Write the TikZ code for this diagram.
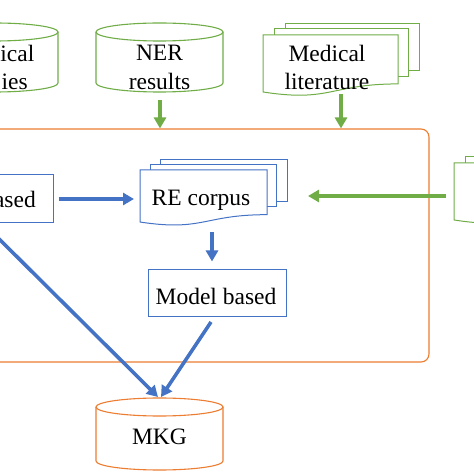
\documentclass[tikz,border=0pt]{standalone}
\usepackage{fontspec}
\setmainfont{Liberation Serif}
\usetikzlibrary{arrows.meta,calc}
\definecolor{ogreen}{HTML}{70AD47}
\definecolor{oblue}{HTML}{4472C4}
\definecolor{oorange}{HTML}{ED7D31}
\newcommand\mydoc[5]{% left, right, top, height, colour
  \draw[#5,line width=1pt,fill=white] (#1,#3) -- (#2,#3) -- (#2,{#3-0.802*#4})
    .. controls ({(#1+#2)/2},{#3-0.802*#4}) and ({(#1+#2)/2},{#3-1.107*#4}) .. (#1,{#3-0.934*#4}) -- cycle;}
\newcommand\mysheet[5]{\draw[#5,line width=1pt,fill=white] (#1,#3) rectangle (#2,#4);}
\newcommand\mycyl[5]{% left, right, top, bottom, colour
  \draw[#5,line width=1.1pt,fill=white] (#1,{#3-9}) -- (#1,{#4+9})
    arc[start angle=180,end angle=360,x radius={(#2-#1)/2},y radius=9] -- (#2,{#3-9});
  \draw[#5,line width=1.1pt] ({(#1+#2)/2},{#3-9}) ellipse[x radius={(#2-#1)/2},y radius=9];}
\begin{document}
\begin{tikzpicture}[x=1pt,y=1pt,
  txt/.style={font=\fontsize{23.5}{28.5}\selectfont,text=black,align=center,inner sep=0pt},
  garrow/.style={draw=ogreen,line width=3.6pt,-{Triangle[length=11pt,width=12pt]}},
  barrow/.style={draw=oblue,line width=3.6pt,-{Triangle[length=11pt,width=12pt]}},
  bluebox/.style={draw=oblue,line width=1pt,fill=white,minimum width=138pt,minimum height=47pt,inner sep=0pt}]
\useasboundingbox (0,0) rectangle (474,474);
\clip (0,0) rectangle (474,474);
% frame
\node[draw=oorange,line width=1.1pt,rounded corners=8pt,minimum width=449pt,minimum height=233pt,inner sep=0pt] (frame) at (204.5,228.5) {};
% cylinders
\mycyl{-69}{58}{451}{382}{ogreen}
\node[txt,anchor=east] (lefta) at (34.5,421) {ical};
\node[txt,anchor=east] (leftb) at (28,392) {ies};
\mycyl{96}{223}{451}{382}{ogreen}
\node[txt] (ner) at (159.5,406.5) {NER\\results};
\mycyl{96}{223}{76}{4}{oorange}
\node[txt] (mkg) at (159.5,37) {MKG};
\coordinate (mkgtop) at (160,77);
% medical literature
\mysheet{285}{419}{450}{403}{ogreen}
\mysheet{274}{408}{445}{397}{ogreen}
\mydoc{263}{398}{439}{61}{ogreen}
\node[txt] (medlit) at (327,406.5) {Medical\\literature};
% right partial stack
\mysheet{476}{611}{323}{273}{ogreen}
\mysheet{465}{600}{317}{268}{ogreen}
\mydoc{454}{589}{311}{61}{ogreen}
\coordinate (rightdoc) at (446,278);
% RE corpus
\mysheet{160}{287}{314}{272}{oblue}
\mysheet{150}{276}{309}{267}{oblue}
\mydoc{140}{267}{304}{55.7}{oblue}
\node[txt] (re) at (201,274) {RE corpus};
% ased box
\node[bluebox,minimum width=100pt,minimum height=48pt] (rule) at (3,275) {};
\node[txt,anchor=east] (ruletxt) at (36,275) {ased};
% model based
\node[bluebox] (model) at (217,180.5) {};
\node[txt] (modeltxt) at (216,178) {Model based};
% arrows
\coordinate (nerout) at (160,374);
\draw[garrow] (nerout) -- (nerout |- frame.north);
\coordinate (medout) at (341,380);
\draw[garrow] (medout) -- (medout |- frame.north);
\draw[garrow] (rightdoc) -- (308,278);
\draw[barrow] ([xshift=5pt]rule.east |- 0,275) -- (134,275);
\coordinate (reout) at (212,242);
\draw[barrow] (reout) -- ([yshift=8pt]reout |- model.north);
\coordinate (modelout) at (211,152);
\draw[barrow] (modelout) -- (161,77);
\coordinate (leftstart) at (-20,254);
\draw[barrow] (leftstart) -- (158,77);
\end{tikzpicture}
\end{document}
